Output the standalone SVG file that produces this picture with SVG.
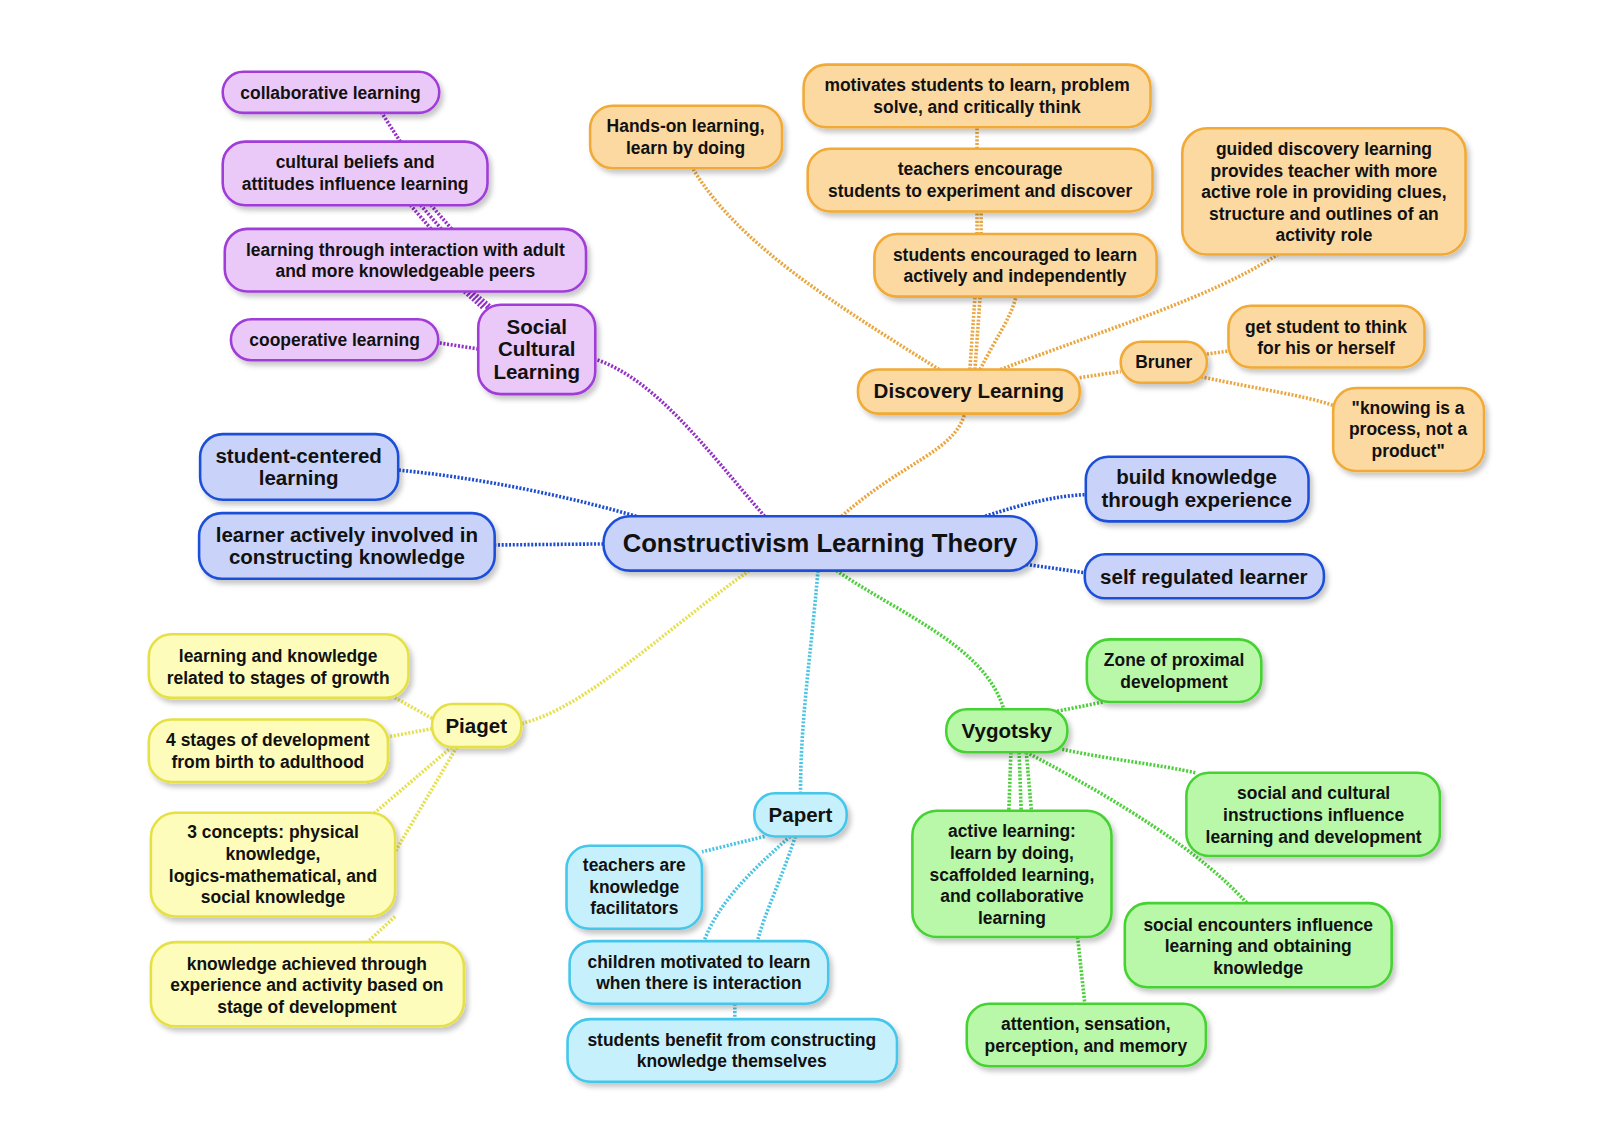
<svg xmlns="http://www.w3.org/2000/svg" width="1600" height="1143" viewBox="0 0 1600 1143">
<defs>
<filter id="sh" x="-10%" y="-10%" width="130%" height="140%"><feDropShadow dx="3" dy="4" stdDeviation="2.5" flood-color="#000" flood-opacity="0.22"/></filter>
<style>
rect{stroke-width:2.5;filter:url(#sh)}
text{font-family:"Liberation Sans",Arial,sans-serif;font-weight:bold;font-size:17px;text-anchor:middle;fill:#111}
.big{font-size:20px}
.c{font-size:25px}
.p rect{fill:#eac9f8;stroke:#a03ed8}
.o rect{fill:#fdd9a2;stroke:#f0aa36}
.b rect{fill:#c9d3fa;stroke:#1e50d8}
.y rect{fill:#fdfcba;stroke:#e6e046}
.cy rect{fill:#c6f0fc;stroke:#44c6ea}
.g rect{fill:#b9f8a8;stroke:#44d232}
#links path{fill:none;stroke-width:3.5;stroke-dasharray:2 1.6}
.lp{stroke:#9330c8}.lo{stroke:#eaa640}.lb{stroke:#1e4ed0}.ly{stroke:#e6e050}.lc{stroke:#4ac4e4}.lg{stroke:#4ad038}
</style>
</defs>
<rect x="0" y="0" width="1600" height="1143" fill="#fff" style="filter:none;stroke:none"/>
<g transform="scale(1.0263)">
<g id="links">
<path class="lp" d="M745 503 C690 440 640 370 580 350"/>
<path class="lp" d="M466 340 L427 334"/>
<path class="lp" d="M480 300 L460 284 M475 300 L456 284 M470 300 L452 284"/>
<path class="lp" d="M440 223 L420 200 M430 223 L410 200 M420 223 L400 200"/>
<path class="lp" d="M390 138 L372 110"/>
<path class="lo" d="M820 503 C880 450 930 440 940 403"/>
<path class="lo" d="M915 360 C820 300 720 240 675 164"/>
<path class="lo" d="M945 360 L950 289 M950 360 L955 289"/>
<path class="lo" d="M955 360 C970 330 985 310 990 289"/>
<path class="lo" d="M952 228 L952 206 M956 228 L956 206"/>
<path class="lo" d="M952 145 L952 124"/>
<path class="lo" d="M975 360 C1080 320 1180 290 1245 248"/>
<path class="lo" d="M1052 368 L1092 362"/>
<path class="lo" d="M1176 345 L1197 342"/>
<path class="lo" d="M1170 367 C1230 380 1270 385 1299 395"/>
<path class="lb" d="M620 503 C540 480 460 465 388 458"/>
<path class="lb" d="M588 530 L482 531"/>
<path class="lb" d="M960 503 C1000 490 1030 483 1058 482"/>
<path class="lb" d="M1000 550 L1057 558"/>
<path class="ly" d="M730 556 C640 620 570 690 508 705"/>
<path class="ly" d="M421 700 L385 680"/>
<path class="ly" d="M421 710 L378 718"/>
<path class="ly" d="M440 728 L365 792 M445 728 L385 830"/>
<path class="ly" d="M385 893 L358 918"/>
<path class="lc" d="M797 556 C790 640 780 700 780 773"/>
<path class="lc" d="M745 815 L684 830"/>
<path class="lc" d="M770 815 C730 850 700 880 686 917 M775 815 C760 860 745 890 738 917"/>
<path class="lc" d="M716 978 L716 993"/>
<path class="lg" d="M815 556 C880 600 960 630 978 691"/>
<path class="lg" d="M1030 693 L1075 684"/>
<path class="lg" d="M1035 730 C1080 740 1130 745 1165 753"/>
<path class="lg" d="M985 733 L983 790 M993 733 L995 790 M1000 733 L1005 790"/>
<path class="lg" d="M1000 733 C1090 780 1170 830 1215 880"/>
<path class="lg" d="M1050 913 L1057 978"/>
</g>
<g id="central" class="b"><rect x="588" y="503" width="422" height="53" rx="26"/><text class="c" x="799" y="538">Constructivism Learning Theory</text></g>
<g id="student-centered" class="b"><rect x="195" y="423" width="193" height="64" rx="22"/><text class="big" x="291" y="451">student-centered<tspan x="291" dy="22">learning</tspan></text></g>
<g id="learner-actively" class="b"><rect x="194" y="500" width="288" height="64" rx="22"/><text class="big" x="338" y="528">learner actively involved in<tspan x="338" dy="22">constructing knowledge</tspan></text></g>
<g id="build-knowledge" class="b"><rect x="1058" y="445" width="217" height="63" rx="22"/><text class="big" x="1166" y="472">build knowledge<tspan x="1166" dy="22">through experience</tspan></text></g>
<g id="self-regulated" class="b"><rect x="1057" y="540" width="233" height="43" rx="20"/><text class="big" x="1173" y="569">self regulated learner</text></g>
<g id="social-cultural" class="p"><rect x="466" y="297" width="114" height="87" rx="22"/><text class="big" x="523" y="325">Social<tspan x="523" dy="22">Cultural</tspan><tspan x="523" dy="22">Learning</tspan></text></g>
<g id="collaborative" class="p"><rect x="217" y="70" width="211" height="40" rx="20"/><text x="322" y="96">collaborative learning</text></g>
<g id="cultural-beliefs" class="p"><rect x="217" y="138" width="258" height="62" rx="22"/><text x="346" y="164">cultural beliefs and<tspan x="346" dy="21">attitudes influence learning</tspan></text></g>
<g id="interaction" class="p"><rect x="219" y="223" width="352" height="61" rx="22"/><text x="395" y="249">learning through interaction with adult<tspan x="395" dy="21">and more knowledgeable peers</tspan></text></g>
<g id="cooperative" class="p"><rect x="225" y="311" width="202" height="40" rx="20"/><text x="326" y="337">cooperative learning</text></g>
<g id="discovery" class="o"><rect x="836" y="360" width="216" height="43" rx="20"/><text class="big" x="944" y="388">Discovery Learning</text></g>
<g id="hands-on" class="o"><rect x="575" y="103" width="187" height="61" rx="22"/><text x="668" y="129">Hands-on learning,<tspan x="668" dy="21">learn by doing</tspan></text></g>
<g id="motivates" class="o"><rect x="783" y="63" width="338" height="61" rx="22"/><text x="952" y="89">motivates students to learn, problem<tspan x="952" dy="21">solve, and critically think</tspan></text></g>
<g id="teachers-encourage" class="o"><rect x="787" y="145" width="336" height="61" rx="22"/><text x="955" y="171">teachers encourage<tspan x="955" dy="21">students to experiment and discover</tspan></text></g>
<g id="students-encouraged" class="o"><rect x="852" y="228" width="275" height="61" rx="22"/><text x="989" y="254">students encouraged to learn<tspan x="989" dy="21">actively and independently</tspan></text></g>
<g id="guided" class="o"><rect x="1152" y="125" width="276" height="123" rx="24"/><text x="1290" y="151">guided discovery learning<tspan x="1290" dy="21">provides teacher with more</tspan><tspan x="1290" dy="21">active role in providing clues,</tspan><tspan x="1290" dy="21">structure and outlines of an</tspan><tspan x="1290" dy="21">activity role</tspan></text></g>
<g id="bruner" class="o"><rect x="1092" y="333" width="84" height="40" rx="20"/><text x="1134" y="359">Bruner</text></g>
<g id="get-student" class="o"><rect x="1197" y="298" width="191" height="60" rx="22"/><text x="1292" y="324">get student to think<tspan x="1292" dy="21">for his or herself</tspan></text></g>
<g id="knowing" class="o"><rect x="1299" y="378" width="147" height="81" rx="22"/><text x="1372" y="403">"knowing is a<tspan x="1372" dy="21">process, not a</tspan><tspan x="1372" dy="21">product"</tspan></text></g>
<g id="piaget" class="y"><rect x="421" y="686" width="87" height="42" rx="20"/><text class="big" x="464" y="714">Piaget</text></g>
<g id="stages-growth" class="y"><rect x="145" y="618" width="253" height="62" rx="22"/><text x="271" y="645">learning and knowledge<tspan x="271" dy="21">related to stages of growth</tspan></text></g>
<g id="four-stages" class="y"><rect x="145" y="701" width="233" height="61" rx="22"/><text x="261" y="727">4 stages of development<tspan x="261" dy="21">from birth to adulthood</tspan></text></g>
<g id="three-concepts" class="y"><rect x="147" y="792" width="238" height="101" rx="24"/><text x="266" y="817">3 concepts: physical<tspan x="266" dy="21">knowledge,</tspan><tspan x="266" dy="21">logics-mathematical, and</tspan><tspan x="266" dy="21">social knowledge</tspan></text></g>
<g id="knowledge-achieved" class="y"><rect x="147" y="918" width="305" height="82" rx="24"/><text x="299" y="945">knowledge achieved through<tspan x="299" dy="21">experience and activity based on</tspan><tspan x="299" dy="21">stage of development</tspan></text></g>
<g id="papert" class="cy"><rect x="735" y="773" width="90" height="42" rx="20"/><text class="big" x="780" y="801">Papert</text></g>
<g id="facilitators" class="cy"><rect x="552" y="824" width="132" height="81" rx="22"/><text x="618" y="849">teachers are<tspan x="618" dy="21">knowledge</tspan><tspan x="618" dy="21">facilitators</tspan></text></g>
<g id="children-motivated" class="cy"><rect x="555" y="917" width="252" height="61" rx="22"/><text x="681" y="943">children motivated to learn<tspan x="681" dy="21">when there is interaction</tspan></text></g>
<g id="students-benefit" class="cy"><rect x="553" y="993" width="321" height="61" rx="22"/><text x="713" y="1019">students benefit from constructing<tspan x="713" dy="21">knowledge themselves</tspan></text></g>
<g id="vygotsky" class="g"><rect x="922" y="691" width="118" height="42" rx="20"/><text class="big" x="981" y="719">Vygotsky</text></g>
<g id="zone" class="g"><rect x="1059" y="623" width="170" height="61" rx="22"/><text x="1144" y="649">Zone of proximal<tspan x="1144" dy="21">development</tspan></text></g>
<g id="social-cultural-instr" class="g"><rect x="1156" y="753" width="247" height="81" rx="22"/><text x="1280" y="779">social and cultural<tspan x="1280" dy="21">instructions influence</tspan><tspan x="1280" dy="21">learning and development</tspan></text></g>
<g id="active-learning" class="g"><rect x="889" y="790" width="194" height="123" rx="24"/><text x="986" y="816">active learning:<tspan x="986" dy="21">learn by doing,</tspan><tspan x="986" dy="21">scaffolded learning,</tspan><tspan x="986" dy="21">and collaborative</tspan><tspan x="986" dy="21">learning</tspan></text></g>
<g id="social-encounters" class="g"><rect x="1096" y="880" width="260" height="82" rx="22"/><text x="1226" y="907">social encounters influence<tspan x="1226" dy="21">learning and obtaining</tspan><tspan x="1226" dy="21">knowledge</tspan></text></g>
<g id="attention" class="g"><rect x="942" y="978" width="233" height="61" rx="22"/><text x="1058" y="1004">attention, sensation,<tspan x="1058" dy="21">perception, and memory</tspan></text></g>
</g>
</svg>
